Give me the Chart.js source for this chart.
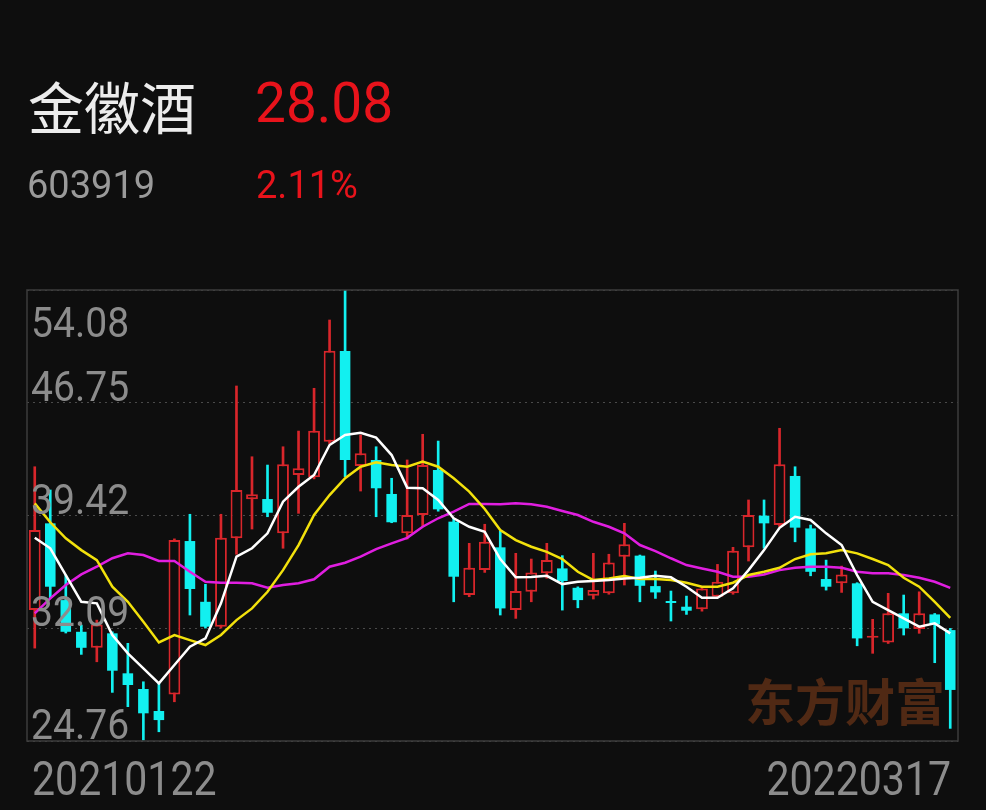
<!DOCTYPE html>
<html>
<head>
<meta charset="utf-8">
<script src="https://cdn.jsdelivr.net/npm/chart.js@4"></script>
<style>
  body { margin:0; background:#0e0e0e; width:986px; height:810px; overflow:hidden; position:relative; }
  .t { position:absolute; white-space:nowrap; line-height:1; z-index:2; }
  #name { left:28px; top:64px; font:56px "Noto Sans CJK SC"; color:#ececec; }
  #price { left:255px; top:71px; font:55px Roboto; color:#e8131b; }
  #code { left:27px; top:163px; font:38px Roboto; color:#9a9a9a; }
  #pct { left:256px; top:163px; font:38px Roboto; color:#e8131b; }
  #kline { position:absolute; left:0; top:0; }
</style>
</head>
<body>
  <div class="t" id="name">金徽酒</div>
  <div class="t" id="price">28.08</div>
  <div class="t" id="code">603919</div>
  <div class="t" id="pct">2.11%</div>
  <canvas id="kline" width="986" height="810"></canvas>
<script>
// weekly candles
const opens  = [33.27,38.91,33.92,31.86,30.82,31.76,29.16,28.14,26.71,27.79,
                37.76,33.81,32.19,37.94,40.47,40.49,38.26,42.05,41.90,44.22,
                50.11,42.64,43.03,40.82,38.26,39.45,42.38,39.02,34.25,35.87,
                37.35,33.27,34.46,35.66,35.98,34.72,34.20,34.36,36.74,36.81,
                34.83,33.86,33.49,33.32,34.14,34.36,37.35,39.41,38.80,41.99,
                38.58,35.29,35.01,35.01,31.47,31.17,33.06,32.04,32.99,31.97];
const highs  = [42.59,41.08,35.55,32.30,32.62,31.86,31.11,28.61,28.51,37.90,
                39.50,34.95,39.50,47.84,43.24,42.70,43.89,44.91,47.69,52.13,
                54.08,44.65,43.89,41.84,43.03,44.70,44.26,39.24,37.61,38.85,
                38.41,36.96,36.59,37.61,36.81,34.78,36.96,36.90,38.91,36.85,
                35.81,34.51,34.18,34.80,36.24,37.35,40.43,40.43,45.09,42.59,
                38.80,36.52,36.13,35.05,32.67,34.36,34.25,34.46,33.05,32.08];
const lows   = [30.80,34.05,31.78,30.39,29.91,27.92,26.99,24.82,25.36,27.31,
                32.95,32.10,32.10,36.90,38.54,39.34,37.29,39.56,41.80,44.10,
                41.94,41.01,39.34,38.95,37.89,38.69,39.70,33.81,34.14,35.72,
                32.95,32.73,33.81,35.34,33.27,33.42,33.99,34.30,34.90,33.81,
                34.03,32.56,32.99,33.20,34.10,34.30,36.46,37.29,38.70,37.71,
                35.50,34.57,34.42,30.95,30.46,31.10,31.65,31.76,29.85,25.58];
const closes = [38.48,34.79,31.86,30.82,32.34,29.33,28.40,26.56,26.12,37.83,
                34.64,32.19,37.97,41.08,40.80,39.60,42.75,42.49,44.93,50.13,
                43.03,43.46,41.19,38.98,39.45,42.70,39.82,35.44,36.03,37.72,
                33.38,34.51,35.72,36.52,35.16,33.92,34.57,36.37,37.55,34.85,
                34.42,33.73,33.23,34.68,35.11,37.13,39.45,38.91,42.75,38.63,
                35.76,34.79,35.59,31.43,31.60,33.06,32.08,33.06,32.34,28.08];

// moving averages as drawn on the chart
const ma5  = [37.97,37.29,35.55,33.81,33.71,31.65,30.46,29.48,28.51,29.70,
              30.89,31.43,33.71,36.74,37.29,38.26,40.32,41.29,42.05,44.00,
              44.65,44.80,44.48,43.35,41.23,41.19,40.43,39.24,38.69,38.36,
              36.59,35.40,35.42,35.50,34.96,35.11,35.16,35.22,35.33,35.37,
              35.50,35.40,34.79,34.07,34.07,34.68,35.87,37.17,38.62,39.34,
              39.13,38.26,37.50,35.55,33.81,33.27,32.73,32.19,32.41,31.76];
const ma10 = [40.21,38.98,37.94,37.17,36.52,34.79,33.81,32.51,31.17,31.65,
              31.32,31.00,31.65,32.62,33.38,34.46,35.87,37.50,39.45,40.75,
              41.84,42.59,42.88,42.70,42.59,42.92,42.59,41.84,40.97,39.84,
              38.48,37.82,37.39,37.06,36.59,35.76,35.22,35.33,35.48,35.29,
              35.29,35.22,35.05,34.79,34.79,35.05,35.55,35.76,36.02,36.59,
              36.90,36.96,37.17,36.96,36.59,36.20,35.37,34.79,33.81,32.77];
const ma20 = [33.06,34.03,34.90,35.59,36.09,36.64,36.96,36.85,36.46,36.46,
              35.76,35.11,35.05,35.05,35.01,34.72,34.90,35.01,35.27,36.09,
              36.35,36.74,37.24,37.61,37.97,38.69,39.24,39.67,40.17,40.17,
              40.15,40.21,40.15,39.99,39.71,39.45,39.01,38.69,38.26,37.50,
              37.11,36.64,36.20,35.98,35.76,35.44,35.44,35.59,35.87,36.02,
              36.09,36.09,36.02,35.76,35.66,35.66,35.55,35.37,35.11,34.72];

const yTicks = [54.08, 46.75, 39.42, 32.09, 24.76];
const dateLabels = ['20210122', '20220317'];
const weeks = closes.map((c, i) => 'W' + (i + 1));

const RED = '#d8262b';
const CYAN = '#12f0f0';
const BG = '#0e0e0e';
const GREY = '#8c8c8c';

const upBody = opens.map((o, i) => closes[i] >= o ? [o, closes[i]] : null);
const downBody = opens.map((o, i) => closes[i] < o ? [closes[i], o] : null);
const wicks = lows.map((l, i) => [l, highs[i]]);
const wickColors = opens.map((o, i) => closes[i] >= o ? RED : CYAN);

const decor = {
  id: 'decor',
  beforeDatasetsDraw(chart) {
    const { ctx } = chart;
    ctx.save();
    ctx.fillStyle = '#502914';
    ctx.font = 'bold 50px "Noto Sans CJK SC"';
    ctx.textBaseline = 'alphabetic';
    ctx.fillText('东方财富', 745, 721);
    ctx.restore();
  },
  afterDatasetsDraw(chart) {
    const { ctx, chartArea: a, scales: { y } } = chart;
    ctx.save();
    ctx.strokeStyle = '#3d3d3d';
    ctx.lineWidth = 1.5;
    ctx.strokeRect(a.left, a.top, a.right - a.left, a.bottom - a.top);

    ctx.fillStyle = GREY;
    ctx.textBaseline = 'alphabetic';
    ctx.font = '42px Roboto';
    yTicks.forEach(v => {
      const py = Math.max(y.getPixelForValue(v) - 2, a.top + 47);
      ctx.save();
      ctx.translate(a.left + 4, py);
      ctx.scale(0.93, 1);
      ctx.fillText(v.toFixed(2), 0, 0);
      ctx.restore();
    });

    ctx.font = '48px Roboto';
    ctx.save();
    ctx.translate(a.left + 5, a.bottom + 54);
    ctx.scale(0.855, 1);
    ctx.textAlign = 'left';
    ctx.fillText(dateLabels[0], 0, 0);
    ctx.restore();
    ctx.save();
    ctx.translate(a.right - 7, a.bottom + 54);
    ctx.scale(0.855, 1);
    ctx.textAlign = 'right';
    ctx.fillText(dateLabels[1], 0, 0);
    ctx.restore();
    ctx.restore();
  }
};

new Chart(document.getElementById('kline'), {
  type: 'bar',
  data: {
    labels: weeks,
    datasets: [
      { type: 'line', label: 'MA5', data: ma5, borderColor: '#ffffff', borderWidth: 2.5,
        pointRadius: 0, tension: 0, order: -3 },
      { type: 'line', label: 'MA10', data: ma10, borderColor: '#f2e10c', borderWidth: 2.5,
        pointRadius: 0, tension: 0, order: -2 },
      { type: 'line', label: 'MA20', data: ma20, borderColor: '#e01ee0', borderWidth: 2.5,
        pointRadius: 0, tension: 0, order: -1 },
      { label: 'up', data: upBody, backgroundColor: BG, borderColor: RED, borderWidth: 2,
        borderSkipped: false, barPercentage: 0.76, categoryPercentage: 1, grouped: false,
        minBarLength: 2, order: 1 },
      { label: 'down', data: downBody, backgroundColor: CYAN, borderWidth: 0,
        barPercentage: 0.68, categoryPercentage: 1, grouped: false, minBarLength: 2, order: 1 },
      { label: 'wick', data: wicks, backgroundColor: wickColors, borderWidth: 0,
        barThickness: 2, grouped: false, order: 2 }
    ]
  },
  options: {
    responsive: false,
    animation: false,
    layout: { padding: { left: 27, right: 28, top: 290, bottom: 69 } },
    plugins: { legend: { display: false }, tooltip: { enabled: false } },
    scales: {
      x: { display: false, offset: true },
      y: {
        min: 24.76, max: 54.08,
        ticks: { display: false },
        afterBuildTicks: s => { s.ticks = yTicks.map(v => ({ value: v })); },
        afterFit: s => { s.width = 0; },
        grid: { color: '#4a4a4a', lineWidth: 1, drawTicks: false },
        border: { display: false, dash: [2, 4] }
      }
    }
  },
  plugins: [decor]
});
</script>
</body>
</html>
